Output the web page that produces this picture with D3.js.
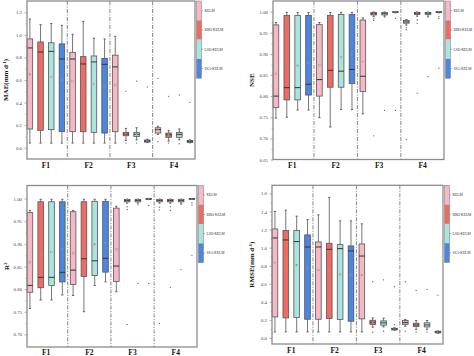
<!DOCTYPE html>
<html><head><meta charset="utf-8">
<script src="https://cdn.jsdelivr.net/npm/d3@7"></script>
<style>body{margin:0;background:#fff}svg{display:block}</style>
</head><body>
<svg id="c" width="474" height="356"></svg>
<script>
const groups = ["F1","F2","F3","F4"];
const models = ["KELM","BBO-KELM","LSO-KELM","SSA-KELM"];
const modelColors = ["#F5B8C4","#EE6B64","#A9E4DD","#4B86E2"];
// rows (group-major): [whiskerLow, q1, median, q3, whiskerHigh, mean]
const maeStats = [
  [0.041,0.166,0.884,0.964,1.14,0.65],[0.041,0.154,0.848,0.937,1.09,0.63],[0.041,0.16,0.854,0.93,1.10,0.627],[0.041,0.142,0.786,0.92,1.085,0.597],
  [0.041,0.142,0.786,0.845,1.005,0.588],[0.041,0.142,0.742,0.807,1.12,0.55],[0.041,0.136,0.76,0.813,0.97,0.56],[0.041,0.13,0.739,0.792,0.964,0.54],
  [0.041,0.142,0.716,0.82,0.987,0.553],[0.065,0.106,0.12,0.136,0.171,0.12],[0.07,0.10,0.118,0.136,0.177,0.118],[0.045,0.05,0.059,0.068,0.075,0.059],
  [0.118,0.13,0.16,0.177,0.19,0.16],[0.059,0.092,0.115,0.13,0.154,0.115],[0.071,0.092,0.118,0.136,0.166,0.118],[0.043,0.047,0.056,0.065,0.07,0.056]
];
const maeOutliers = [[],[],[],[],[],[],[],[],[],[0.50,0.041],[0.59,0.041],[0.538],[0.615,0.053],[0.455,0.041],[0.467,0.035],[0.402]];
const maeTicks = [0.0,0.2,0.4,0.6,0.8,1.0,1.2];

const nseStats = [
  [0.748,0.7726,0.80,0.9685,0.974,0.853],[0.75,0.791,0.82,0.991,0.998,0.87],[0.767,0.791,0.82,0.991,0.998,0.872],[0.767,0.8025,0.828,0.991,0.998,0.878],
  [0.749,0.80,0.839,0.969,0.974,0.873],[0.727,0.821,0.861,0.991,0.998,0.886],[0.768,0.821,0.859,0.993,0.998,0.892],[0.768,0.83,0.863,0.993,0.998,0.898],
  [0.758,0.811,0.847,0.98,0.985,0.881],[0.988,0.992,0.995,0.9976,0.999,0.995],[0.989,0.992,0.995,0.9976,0.999,0.995],[0.997,0.998,0.999,0.9995,1.0,0.999],
  [0.968,0.9725,0.9756,0.979,0.981,0.9756],[0.989,0.993,0.996,0.998,0.999,0.996],[0.989,0.993,0.996,0.998,0.999,0.996],[0.997,0.998,0.999,0.9995,1.0,0.999]
];
const nseOutliers = [[],[],[],[],[],[],[],[],[],[0.983,0.979,0.706],[0.987,0.766],[0.984,0.766],[0.962,0.957,0.697],[0.980,0.972,0.807],[0.987,0.846],[0.988,0.984,0.866]];
const nseTicks = [0.65,0.70,0.75,0.80,0.85,0.90,0.95,1.00];

const r2Stats = [
  [0.757,0.793,0.808,0.969,0.974,0.859],[0.776,0.803,0.826,0.993,0.9985,0.875],[0.776,0.808,0.826,0.993,0.9985,0.882],[0.787,0.816,0.837,0.993,0.9985,0.8875],
  [0.786,0.81,0.842,0.971,0.974,0.879],[0.75,0.828,0.867,0.993,0.9985,0.89],[0.808,0.83,0.8625,0.994,0.9985,0.899],[0.816,0.8375,0.868,0.994,0.9985,0.902],
  [0.794,0.817,0.851,0.979,0.983,0.8875],[0.99,0.993,0.996,0.998,0.999,0.996],[0.99,0.993,0.996,0.998,0.999,0.996],[0.998,0.9985,0.9995,1.0,1.0,0.9995],
  [0.99,0.993,0.996,0.998,0.999,0.996],[0.99,0.993,0.996,0.998,0.999,0.996],[0.99,0.993,0.996,0.998,0.999,0.996],[0.998,0.9985,0.9995,1.0,1.0,0.9995]
];
const r2Outliers = [[],[],[],[],[],[],[],[],[],[0.982,0.976,0.722],[0.986,0.8125],[0.985,0.8125],[0.981,0.975,0.724],[0.982,0.974,0.804],[0.987,0.843],[0.991,0.986,0.874]];
const r2Ticks = [0.70,0.75,0.80,0.85,0.90,0.95,1.00];

const rmseStats = [
  [0.067,0.233,1.107,1.207,1.40,0.83],[0.067,0.222,1.085,1.189,1.415,0.81],[0.067,0.226,1.067,1.189,1.348,0.807],[0.067,0.207,1.007,1.141,1.311,0.778],
  [0.067,0.207,1.007,1.063,1.363,0.752],[0.067,0.215,0.981,1.048,1.556,0.74],[0.067,0.204,0.989,1.033,1.296,0.704],[0.067,0.185,0.963,1.019,1.296,0.70],
  [0.067,0.211,0.907,1.041,1.263,0.696],[0.119,0.148,0.174,0.196,0.222,0.174],[0.122,0.141,0.167,0.189,0.219,0.167],[0.085,0.089,0.1,0.107,0.112,0.1],
  [0.13,0.148,0.17,0.193,0.204,0.17],[0.096,0.126,0.144,0.163,0.193,0.144],[0.096,0.122,0.144,0.167,0.193,0.144],[0.052,0.056,0.067,0.074,0.078,0.067]
];
const rmseOutliers = [[],[],[],[],[],[],[],[],[],[0.063,0.622],[0.074,0.644],[0.148,0.567],[0.074,0.622],[0.067,0.526],[0.067,0.537],[0.474]];
const rmseTicks = [0.0,0.2,0.4,0.6,0.8,1.0,1.2,1.4,1.6];

const svg = d3.select("#c");
const serif = "'Liberation Serif','DejaVu Serif',serif";

function drawPanel(p) {
  const g = svg.append("g");
  const x = d3.scaleLinear().domain([-0.27, 15.47]).range([p.left, p.right]);
  const y = d3.scaleLinear().domain(p.domain).range([p.bottom, p.top]);
  const step = x(1) - x(0);
  const bw = step * 0.52;

  [3.5, 7.5, 11.5].forEach(s => {
    g.append("line").attr("x1", x(s)).attr("x2", x(s)).attr("y1", p.top).attr("y2", p.bottom)
      .attr("stroke", "#666").attr("stroke-width", 0.8).attr("stroke-dasharray", "4,1.5,1,1.5");
  });

  p.stats.forEach((s, i) => {
    const m = i % 4;
    const cx = x(i);
    const [wl, q1, md, q3, wh, mn] = s;
    const bg = g.append("g");
    bg.append("line").attr("x1", cx).attr("x2", cx).attr("y1", y(wh)).attr("y2", y(q3)).attr("stroke", "#777").attr("stroke-width", 1);
    bg.append("line").attr("x1", cx).attr("x2", cx).attr("y1", y(q1)).attr("y2", y(wl)).attr("stroke", "#777").attr("stroke-width", 1);
    [wl, wh].forEach(v => bg.append("line").attr("x1", cx - bw * 0.2).attr("x2", cx + bw * 0.2)
      .attr("y1", y(v)).attr("y2", y(v)).attr("stroke", "#555").attr("stroke-width", 0.9));
    bg.append("rect").attr("x", cx - bw / 2).attr("y", y(q3)).attr("width", bw)
      .attr("height", Math.max(0.6, y(q1) - y(q3))).attr("fill", modelColors[m])
      .attr("stroke", "#555").attr("stroke-width", 0.8);
    bg.append("line").attr("x1", cx - bw / 2).attr("x2", cx + bw / 2).attr("y1", y(md)).attr("y2", y(md))
      .attr("stroke", "#333").attr("stroke-width", 1);
    bg.append("rect").attr("x", cx - 0.8).attr("y", y(mn) - 0.8).attr("width", 1.6).attr("height", 1.6)
      .attr("fill", "none").attr("stroke", "#999").attr("stroke-width", 0.4);
    p.outliers[i].forEach(v => bg.append("circle").attr("cx", cx).attr("cy", y(v)).attr("r", 0.65).attr("fill", "#666"));
  });

  const minor = [];
  for (let k = 0; k < p.ticks.length - 1; k++) minor.push((p.ticks[k] + p.ticks[k + 1]) / 2);
  const ax = g.append("g").attr("transform", `translate(${p.left},0)`)
    .call(d3.axisLeft(y).tickValues(p.ticks).tickFormat(d3.format(p.fmt)).tickSize(2.5).tickPadding(2.5));
  ax.select(".domain").remove();
  ax.selectAll("line").attr("stroke", "#777").attr("stroke-width", 0.6);
  ax.selectAll("text").attr("font-family", serif).attr("font-size", 4.8).attr("fill", "#444");
  const ax2 = g.append("g").attr("transform", `translate(${p.left},0)`)
    .call(d3.axisLeft(y).tickValues(minor).tickFormat("").tickSize(1.5));
  ax2.select(".domain").remove();
  ax2.selectAll("line").attr("stroke", "#777").attr("stroke-width", 0.5);

  g.append("rect").attr("x", p.left).attr("y", p.top).attr("width", p.right - p.left).attr("height", p.bottom - p.top)
    .attr("fill", "none").attr("stroke", "#8c8c8c").attr("stroke-width", 1.3);

  groups.forEach((gr, k) => {
    g.append("text").attr("x", x(k * 4 + 1.5)).attr("y", Math.min(p.bottom + 8.5, 354.5))
      .attr("text-anchor", "middle").attr("font-family", serif).attr("font-weight", "bold")
      .attr("font-size", 7.5).attr("fill", "#111").text(gr);
  });

  const yl = g.append("text").attr("transform", `translate(${p.labelX},${(p.top + p.bottom) / 2}) rotate(-90)`)
    .attr("text-anchor", "middle").attr("font-family", serif).attr("font-weight", "bold")
    .attr("font-size", 7).attr("fill", "#111");
  yl.append("tspan").text(p.label);
  if (p.sup) {
    yl.append("tspan").attr("font-size", 4.5).attr("baseline-shift", "super").text(p.sup);
    if (p.after) yl.append("tspan").text(p.after);
  }

  const cbx = p.right + 1.5, cbw = 5, segH = 19.3;
  models.forEach((mname, m) => {
    g.append("rect").attr("x", cbx).attr("y", p.top + m * segH).attr("width", cbw).attr("height", segH)
      .attr("fill", modelColors[m]);
    const ty = p.top + m * segH + segH / 2;
    g.append("line").attr("x1", cbx + cbw).attr("x2", cbx + cbw + 1.5).attr("y1", ty).attr("y2", ty)
      .attr("stroke", "#555").attr("stroke-width", 0.5);
    g.append("text").attr("x", cbx + cbw + 3).attr("y", ty).attr("dy", "0.35em")
      .attr("font-family", serif).attr("font-size", 3.6).attr("fill", "#333").text(mname);
  });
  g.append("rect").attr("x", cbx).attr("y", p.top).attr("width", cbw).attr("height", segH * 4)
    .attr("fill", "none").attr("stroke", "#777").attr("stroke-width", 0.5);
}

drawPanel({left: 27, right: 195, top: 1, bottom: 159, domain: [-0.1, 1.3], ticks: maeTicks, fmt: ".1f",
  stats: maeStats, outliers: maeOutliers, label: "MAE(mm d", sup: "-1", after: ")", labelX: 8});
drawPanel({left: 273, right: 444, top: 1, bottom: 159.5, domain: [0.65, 1.025], ticks: nseTicks, fmt: ".2f",
  stats: nseStats, outliers: nseOutliers, label: "NSE", labelX: 254});
drawPanel({left: 27, right: 197, top: 185.5, bottom: 347, domain: [0.672, 1.029], ticks: r2Ticks, fmt: ".2f",
  stats: r2Stats, outliers: r2Outliers, label: "R", sup: "2", labelX: 9});
drawPanel({left: 272, right: 443, top: 185.3, bottom: 344, domain: [-0.067, 1.69], ticks: rmseTicks, fmt: ".1f",
  stats: rmseStats, outliers: rmseOutliers, label: "RMSE(mm d", sup: "-1", after: ")", labelX: 254});
</script>
</body></html>
